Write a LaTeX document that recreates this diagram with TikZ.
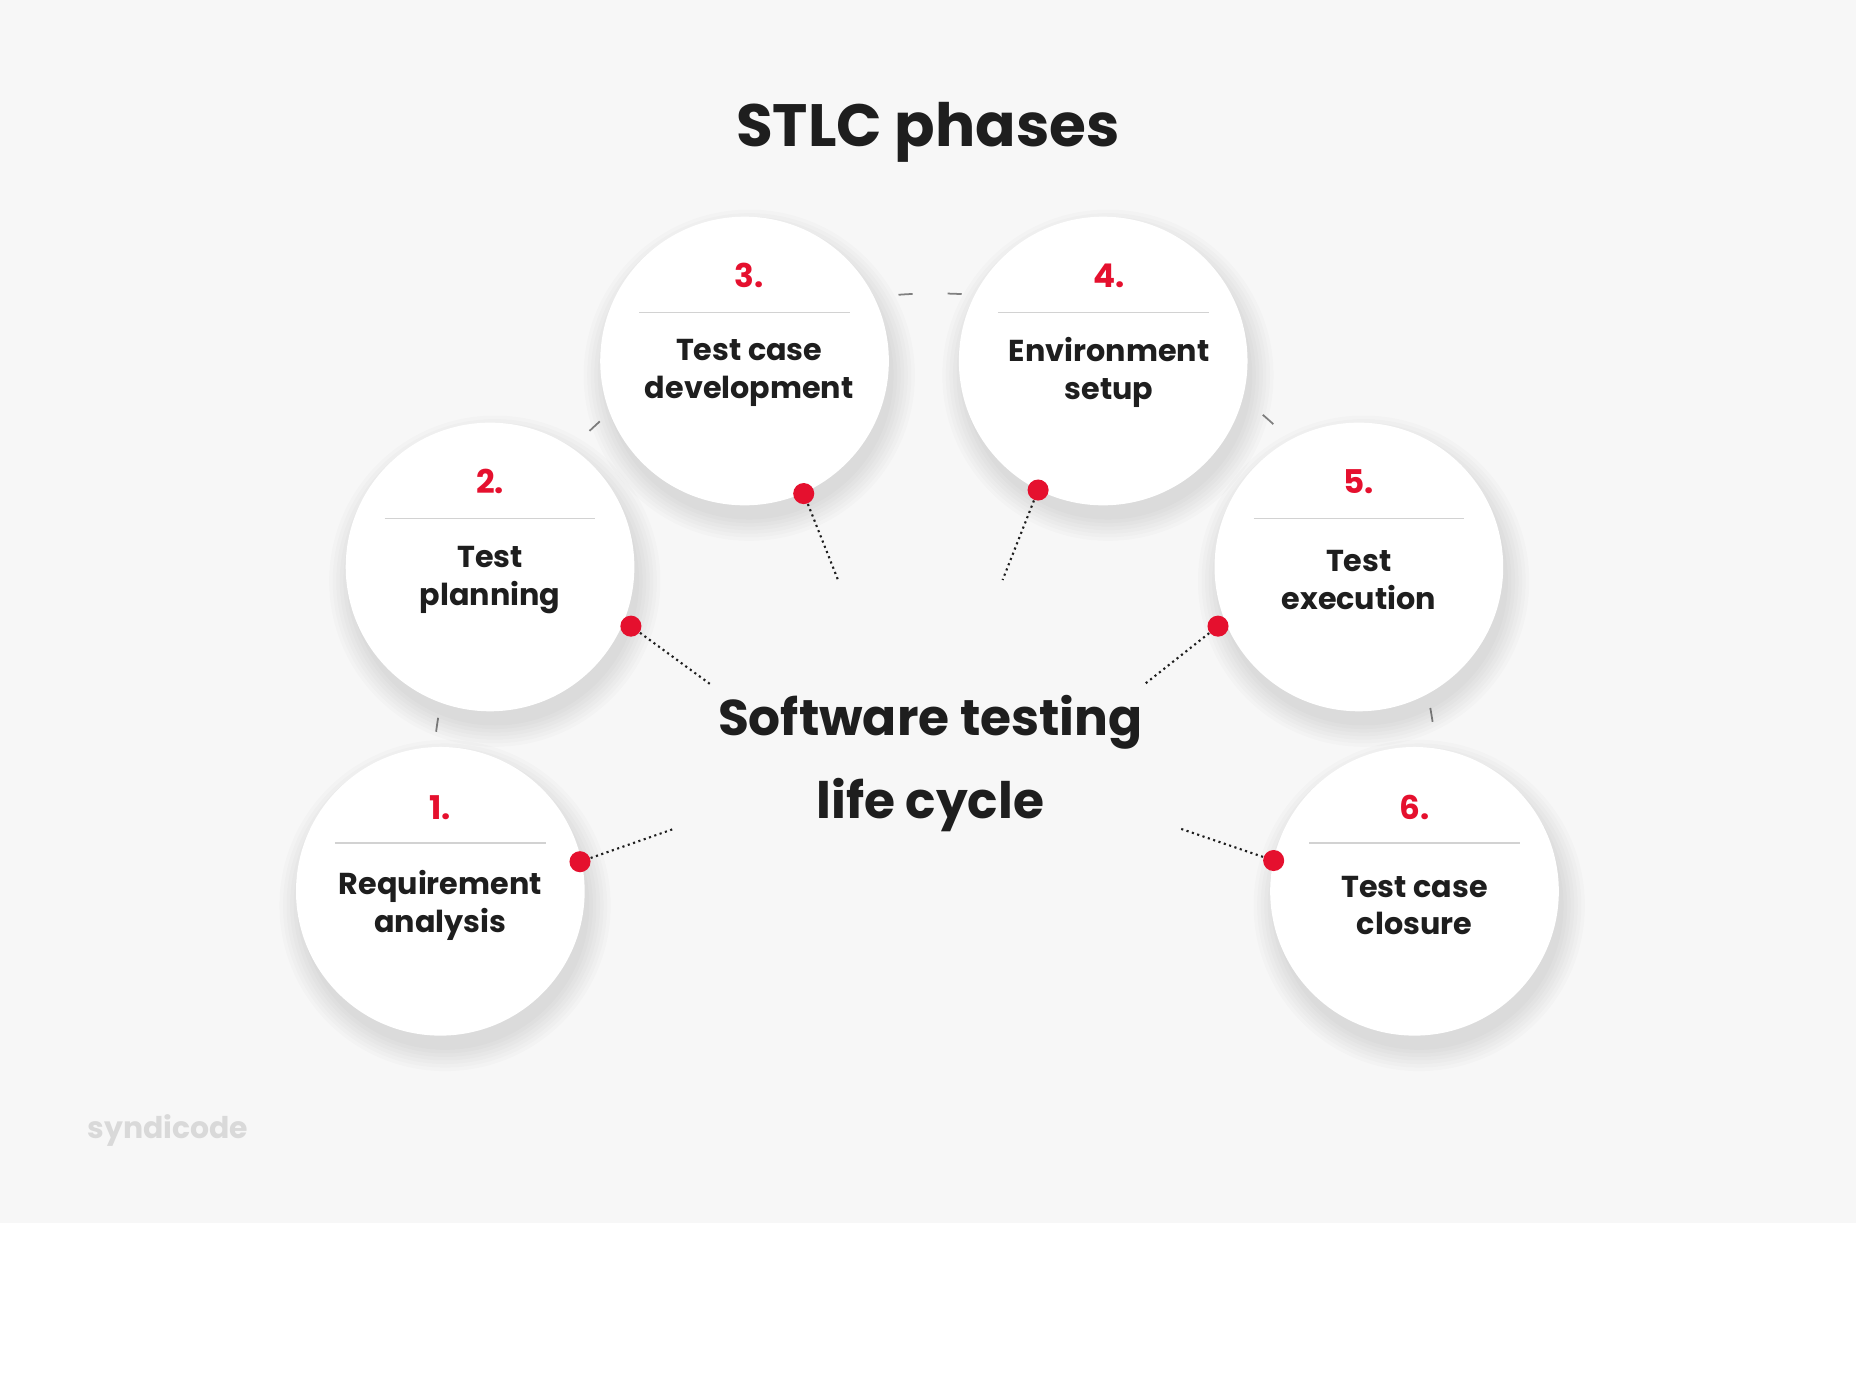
\documentclass[tikz,border=0pt]{standalone}
\usepackage{fontspec}
\setmainfont{Poppins}
\definecolor{bg}{HTML}{F7F7F7}
\definecolor{rd}{HTML}{E5102E}
\definecolor{tx}{HTML}{1E1E1E}
\tikzset{
 phase/.style={circle,fill=white,minimum size=244*0.3367pt,inner sep=0},
 shd/.style={circle,fill=black,opacity=0.015,inner sep=0},
 num/.style={text=rd,font=\bfseries\fontsize{9.3}{11}\selectfont},
 lab/.style={text=tx,font=\bfseries\fontsize{8.6}{10.8}\selectfont,align=center},
 dot/.style={circle,fill=rd,minimum size=6pt,inner sep=0},
 link/.style={densely dotted,line width=0.6pt,tx},
}
\begin{document}
\begin{tikzpicture}[x=0.011837cm,y=-0.011837cm]
\useasboundingbox (0,0) rectangle (1568,1171);
\fill[white] (0,0) rectangle (1568,1171);
\fill[bg] (0,0) rectangle (1568,1033);
\node[text=tx,font=\bfseries\fontsize{17}{20}\selectfont] (title) at (784,112) {STLC phases};
\draw[gray,line width=0.5pt,dash pattern=on 4pt off 10pt] (790,673) ++(165:425) arc (165:375:425);
\foreach \n/\x/\y in {p1/372/753,p2/414/479,p3/629/305,p4/932/305,p5/1148/479,p6/1195/753}{
  \foreach \k in {0,...,6}{
    \node[shd,minimum size={(244+6*\k)*0.3367pt}] at (\x+4,\y+12) {};
  }
}
\foreach \n/\x/\y in {p1/372/753,p2/414/479,p3/629/305,p4/932/305,p5/1148/479,p6/1195/753}{
  \node[phase] (\n) at (\x,\y) {};
  \draw[gray!35,line width=0.5pt] (\x-89,\y-41) -- (\x+89,\y-41);
}
\node[num] (n1) at (372,682) {1.};
\node[num] (n2) at (414,407) {2.};
\node[num] (n3) at (633,233) {3.};
\node[num] (n4) at (937,233) {4.};
\node[num] (n5) at (1148,407) {5.};
\node[num] (n6) at (1195,682) {6.};
\node[lab] (l1) at (372,765) {Requirement\\analysis};
\node[lab] (l2) at (414,490) {Test\\planning};
\node[lab] (l3) at (633,315) {Test case\\development};
\node[lab] (l4) at (937,315) {Environment\\setup};
\node[lab] (l5) at (1148,490) {Test\\execution};
\node[lab] (l6) at (1195,765) {Test case\\closure};
\node[text=tx,font=\bfseries\fontsize{14.3}{23.5}\selectfont,align=center] (center) at (786,645) {Software testing\\life cycle};
\foreach \d/\x/\y/\ex/\ey in {d1/490/728/570/700,d2/533/529/600/578,d3/679/417/708/490,d4/877/414/847/490,d5/1029/529/967/578,d6/1076/727/997/700}{
  \coordinate (e\d) at (\ex,\ey);
  \node[dot] (\d) at (\x,\y) {};
  \draw[link] (\d) -- (e\d);
}
\node[text=black!15,font=\bfseries\fontsize{8.5}{9}\selectfont] (logo) at (142,955) {syndicode};
\end{tikzpicture}
\end{document}
